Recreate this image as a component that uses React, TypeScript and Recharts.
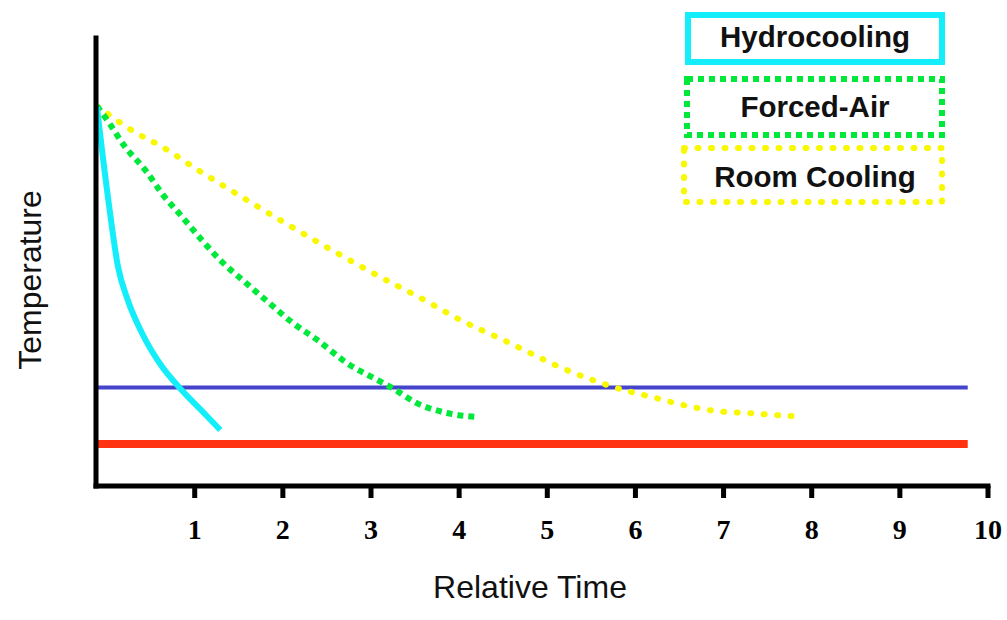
import React from 'react';
import { LineChart, Line, XAxis, YAxis, Legend } from 'recharts';

// ---- data ----
const seriesNames = ['Hydrocooling', 'Forced-Air', 'Room Cooling'];
const xTicks = [1, 2, 3, 4, 5, 6, 7, 8, 9, 10];

const hydroTime = [-0.11, 0.02, 0.13, 0.24, 0.4, 0.63, 0.83, 1.08, 1.29];
const hydroTemp = [84.6, 63.8, 48.9, 41.5, 34.2, 26.6, 21.9, 16.8, 12.5];

const forcedTime = [-0.11, 0.02, 0.21, 0.44, 0.64, 0.86, 1.08, 1.31, 1.57, 1.83, 2.1, 2.39, 2.76, 3.07, 3.24, 3.52, 3.86, 4.2];
const forcedTemp = [84.8, 81.3, 75.7, 70.5, 65.0, 60.0, 54.9, 50.0, 45.5, 41.1, 36.6, 32.6, 27.0, 23.7, 21.9, 18.5, 16.3, 15.4];

const roomTime = [-0.11, 0.32, 0.63, 1.04, 1.46, 2.06, 2.65, 3.1, 3.56, 4.01, 4.5, 5.28, 5.75, 6.24, 6.58, 6.93, 7.27, 7.61, 7.78];
const roomTemp = [84.8, 79.0, 75.7, 70.5, 65.4, 58.3, 51.6, 46.7, 42.0, 37.1, 32.6, 25.4, 22.1, 19.6, 17.9, 16.7, 16.3, 15.8, 15.6];

const upperLimitTime = [-0.12, 9.77];
const upperLimitTemp = [22, 22];
const lowerLimitTime = [-0.12, 9.77];
const lowerLimitTemp = [9.4, 9.4];

const zip = (xs: number[], ys: number[]) => xs.map((x, i) => ({ x, y: ys[i] }));

const hydroData = zip(hydroTime, hydroTemp);
const forcedData = zip(forcedTime, forcedTemp);
const roomData = zip(roomTime, roomTemp);
const upperData = zip(upperLimitTime, upperLimitTemp);
const lowerData = zip(lowerLimitTime, lowerLimitTemp);

const styles: Record<string, { stroke: string; width: number; dash?: string; cap?: 'round' | 'butt' }> = {
  Hydrocooling: { stroke: '#14eefa', width: 6 },
  'Forced-Air': { stroke: '#00e83a', width: 6, dash: '6 5', cap: 'butt' },
  'Room Cooling': { stroke: '#f8f800', width: 6, dash: '1 12.5', cap: 'round' },
};

const boxes = [
  { x: 8, y: 15, w: 254, h: 47, ty: 47 },
  { x: 7, y: 79, w: 255, h: 56, ty: 117 },
  { x: 4, y: 148, w: 258, h: 54, ty: 187 },
];

const LegendBoxes = (props: any) => {
  const payload = seriesNames
    .map((n) => (props.payload || []).find((p: any) => p.value === n))
    .filter(Boolean);
  return (
    <svg width={270} height={215} style={{ display: 'block' }}>
      {payload.map((p: any, i: number) => {
        const s = styles[p.value];
        const b = boxes[i];
        return (
          <g key={p.value}>
            <rect
              x={b.x}
              y={b.y}
              width={b.w}
              height={b.h}
              fill="#fff"
              stroke={s.stroke}
              strokeWidth={s.width}
              strokeDasharray={s.dash}
              strokeLinecap={s.cap}
            />
            <text
              x={135}
              y={b.ty}
              textAnchor="middle"
              fontFamily="'Liberation Sans', Arial, sans-serif"
              fontWeight="bold"
              fontSize={29.5}
              fill="#111"
            >
              {p.value}
            </text>
          </g>
        );
      })}
    </svg>
  );
};

const YLabel = () => (
  <text
    x={41}
    y={280}
    transform="rotate(-90, 41, 280)"
    textAnchor="middle"
    fontFamily="'Liberation Sans', Arial, sans-serif"
    fontSize={32}
    fill="#111"
  >
    Temperature
  </text>
);

export default function App() {
  return (
    <div style={{ position: 'absolute', left: 0, top: 0, background: '#fff' }}>
      <LineChart
        width={1007}
        height={620}
        margin={{ top: 38, right: 19, bottom: 0, left: 86 }}
      >
        <XAxis
          dataKey="x"
          type="number"
          domain={[-0.12, 10]}
          ticks={xTicks}
          allowDataOverflow
          height={134}
          axisLine={{ stroke: '#000', strokeWidth: 5, strokeLinecap: 'square' }}
          tickLine={{ stroke: '#000', strokeWidth: 5 }}
          tickSize={12}
          tickMargin={21}
          tick={{ fill: '#000', fontFamily: "'Liberation Serif', 'Times New Roman', serif", fontWeight: 'bold', fontSize: 28 }}
          label={{
            value: 'Relative Time',
            position: 'insideBottom',
            offset: 22,
            dx: -12,
            fontSize: 32,
            fill: '#111',
            fontFamily: "'Liberation Sans', Arial, sans-serif",
          }}
        />
        <YAxis
          type="number"
          domain={[0, 100]}
          width={10}
          tick={false}
          tickLine={false}
          axisLine={{ stroke: '#000', strokeWidth: 5, strokeLinecap: 'square' }}
          label={<YLabel />}
        />
        <Legend
          layout="vertical"
          align="center"
          verticalAlign="middle"
          content={<LegendBoxes />}
          wrapperStyle={{ left: 680, top: 0, width: 270, height: 215 }}
        />
        <Line
          data={lowerData}
          dataKey="y"
          name="lower"
          legendType="none"
          stroke="#ff3311"
          strokeWidth={8}
          dot={false}
          activeDot={false}
          isAnimationActive={false}
        />
        <Line
          data={upperData}
          dataKey="y"
          name="upper"
          legendType="none"
          stroke="#4444cc"
          strokeWidth={4}
          dot={false}
          activeDot={false}
          isAnimationActive={false}
        />
        <Line
          data={roomData}
          dataKey="y"
          name={seriesNames[2]}
          type="monotone"
          stroke={styles['Room Cooling'].stroke}
          strokeWidth={6}
          strokeDasharray={styles['Room Cooling'].dash}
          strokeLinecap="round"
          dot={false}
          activeDot={false}
          isAnimationActive={false}
        />
        <Line
          data={forcedData}
          dataKey="y"
          name={seriesNames[1]}
          type="monotone"
          stroke={styles['Forced-Air'].stroke}
          strokeWidth={6}
          strokeDasharray={styles['Forced-Air'].dash}
          dot={false}
          activeDot={false}
          isAnimationActive={false}
        />
        <Line
          data={hydroData}
          dataKey="y"
          name={seriesNames[0]}
          type="monotone"
          stroke={styles.Hydrocooling.stroke}
          strokeWidth={6}
          dot={false}
          activeDot={false}
          isAnimationActive={false}
        />
      </LineChart>
    </div>
  );
}
